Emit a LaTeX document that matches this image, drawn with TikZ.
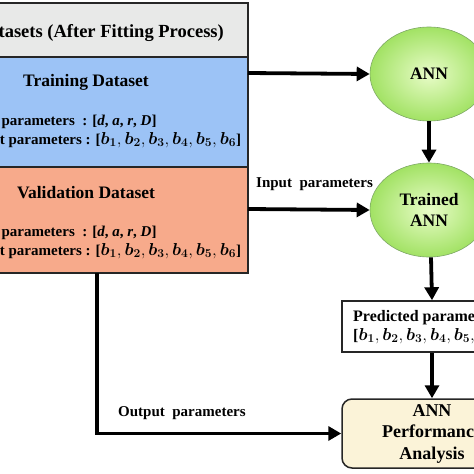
\documentclass[tikz,border=0pt]{standalone}
\usepackage{amsmath}
\usepackage{bm}
\usepackage{fontspec}
\setmainfont{Liberation Serif}
\usetikzlibrary{arrows.meta,shapes.geometric,calc}
\definecolor{graybox}{HTML}{E8E9E8}
\definecolor{bluebox}{HTML}{9CC3F6}
\definecolor{orangebox}{HTML}{F7AA8B}
\definecolor{creambox}{HTML}{FBF3D8}
\definecolor{gin}{HTML}{E8FCC8}
\definecolor{gout}{HTML}{A2E264}
\definecolor{gline}{HTML}{7EA866}
\tikzset{
  every node/.style={font=\bfseries},
  panel/.style={draw=black!85, line width=1.8pt, minimum width=348pt, inner sep=0pt},
  annell/.style={ellipse, draw=gline, line width=0.6pt, minimum width=118pt, minimum height=94pt,
     inner sep=0pt, shading=radial, inner color=gin, outer color=gout, align=center,
     font=\fontsize{17.5}{21}\bfseries\selectfont},
  flow/.style={line width=3.8pt, -{Triangle[length=13pt,width=14pt]}},
  headtxt/.style={font=\fontsize{17.5}{20}\bfseries\selectfont, inner sep=0pt},
  bodytxt/.style={font=\fontsize{15}{18}\bfseries\selectfont, inner sep=0pt, anchor=west},
  outbox/.style={draw=black!85, line width=1.5pt, fill=white, minimum width=180pt, minimum height=51pt},
  perfbox/.style={draw=black!85, line width=1.5pt, fill=creambox, rounded corners=10pt,
     minimum width=180pt, minimum height=69pt, align=center, font=\fontsize{18}{21.5}\bfseries\selectfont},
}
\newcommand{\vb}[1]{\bm{b_{#1}}}
\newcommand{\blist}{{\fontsize{17}{18}\selectfont$\vb1, \vb2, \vb3, \vb4, \vb5, \vb6$}}
\begin{document}
\begin{tikzpicture}[x=1pt,y=-1pt]
\useasboundingbox (0,0) rectangle (474,474);
\clip (0,0) rectangle (474,474);
% left panels
\node[panel, fill=graybox, minimum height=54pt] (gray) at (74,30) {};
\node[panel, fill=bluebox, minimum height=110pt] (blue) at (74,112) {};
\node[panel, fill=orangebox, minimum height=106pt] (orange) at (74,220) {};
\node[headtxt, font=\fontsize{18.5}{21}\bfseries\selectfont, anchor=east] (title) at (224,33) {Datasets (After Fitting Process)};
\node[headtxt] (trh) at (86,82) {Training Dataset};
\node[bodytxt] (tri) at (-42,122) {Input\ \ parameters\ \ : [\textit{d}, \textit{a}, \textit{r}, \textit{D}]};
\node[bodytxt] (tro) at (-42,140) {Output parameters : [\blist]};
\node[headtxt] (vah) at (86,193) {Validation Dataset};
\node[bodytxt] (vai) at (-42,233) {Input\ \ parameters\ \ : [\textit{d}, \textit{a}, \textit{r}, \textit{D}]};
\node[bodytxt] (vao) at (-42,251) {Output parameters : [\blist]};
% right side
\node[annell] (ann) at (429,74) {ANN};
\node[annell] (trained) at (429,210) {Trained\\ANN};
\node[outbox] (pred) at (432,326.5) {};
\node[bodytxt, font=\fontsize{16}{18}\bfseries\selectfont, align=left] (predtxt) at (353,327)
  {Predicted parameters\\[1pt] [\blist]};
\node[perfbox] (perf) at (432,433.5) {ANN\\Performance\\Analysis};
% connectors
\coordinate (bl) at (248,73);
\coordinate (ol) at (248,209);
\coordinate (ob) at (97,273);
\draw[flow] (bl) -- (ann.west);
\draw[flow] (ol) -- (trained.west);
\draw[flow] (ann.south) -- (trained.north);
\draw[flow] ($(trained.south)+(2,0)$) -- (pred.north);
\draw[flow] (pred.south) -- (perf.north);
\draw[flow] (ob) |- (perf.west);
\node[bodytxt] (inlab) at (256,184) {Input\ \ parameters};
\node[bodytxt] (outlab) at (118,413) {Output\ \ parameters};
\end{tikzpicture}
\end{document}
